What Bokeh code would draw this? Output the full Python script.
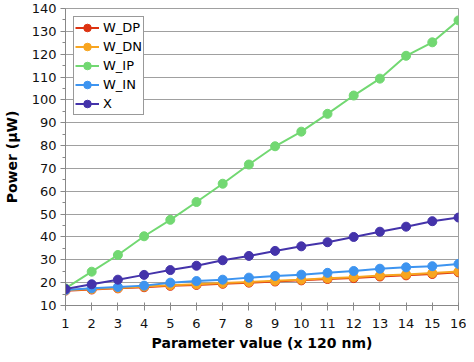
from bokeh.plotting import figure
from bokeh.embed import file_html
from bokeh.resources import INLINE
from bokeh.models import FixedTicker, Range1d

x = list(range(1, 17))
w_dp = [16.5, 17.0, 17.5, 18.0, 18.6, 19.0, 19.5, 20.0, 20.5, 21.0, 21.6, 22.0, 22.7, 23.2, 23.8, 24.5]
w_dn = [16.7, 17.2, 17.7, 18.3, 18.9, 19.3, 19.8, 20.3, 20.8, 21.3, 21.9, 22.4, 23.1, 23.6, 24.2, 24.9]
w_ip = [17.5, 24.8, 32.1, 40.3, 47.5, 55.3, 63.3, 71.7, 79.7, 86.1, 93.9, 101.9, 109.3, 119.3, 125.2, 134.8]
w_in = [16.8, 17.5, 18.1, 18.7, 20.0, 20.7, 21.3, 22.2, 22.9, 23.5, 24.3, 25.1, 26.1, 26.7, 27.2, 28.2]
x_s = [17.2, 19.3, 21.3, 23.4, 25.5, 27.4, 29.8, 31.7, 33.9, 35.9, 37.7, 40.0, 42.3, 44.5, 46.9, 48.5]

series = [
    ("W_DP", w_dp, "#dd3311"),
    ("W_DN", w_dn, "#f8a520"),
    ("W_IP", w_ip, "#72d872"),
    ("W_IN", w_in, "#3d94f0"),
    ("X", x_s, "#4433aa"),
]

y_ticks = list(range(10, 141, 10))

p = figure(width=466, height=354, output_backend="svg", toolbar_location=None,
           x_range=Range1d(1, 16), y_range=Range1d(10, 140),
           min_border_left=62, min_border_right=8, min_border_top=8, min_border_bottom=49)

for name, ys, col in series:
    p.line(x, ys, line_color=col, line_width=2, legend_label=name)
    p.scatter(x, ys, size=9, fill_color=col, line_color=col, legend_label=name)

p.xaxis.ticker = FixedTicker(ticks=x)
p.yaxis.ticker = FixedTicker(ticks=y_ticks, minor_ticks=[v + 5 for v in y_ticks[:-1]])

font = "DejaVu Sans"
for ax in (p.xaxis, p.yaxis):
    ax.major_label_text_font = font
    ax.major_label_text_font_size = "13px"
    ax.major_label_text_color = "#111111"
    ax.axis_label_text_font = font
    ax.axis_label_text_font_size = "14px"
    ax.axis_label_text_font_style = "bold"
    ax.axis_label_text_color = "#000000"
    ax.axis_line_color = "#888888"
    ax.major_tick_line_color = "#888888"
    ax.minor_tick_line_color = "#888888"

p.xaxis.axis_label = "Parameter value (x 120 nm)"
p.yaxis.axis_label = "Power (µW)"
p.xaxis.major_tick_in = 3
p.xaxis.major_tick_out = 5
p.xaxis.minor_tick_line_color = None
p.xaxis.major_label_standoff = 8
p.xaxis.axis_label_standoff = 4
p.yaxis.major_tick_in = 0
p.yaxis.major_tick_out = 5
p.yaxis.minor_tick_in = 0
p.yaxis.minor_tick_out = 3
p.yaxis.major_label_standoff = 4
p.yaxis.axis_label_standoff = 9

p.xgrid.grid_line_color = None
p.ygrid.grid_line_color = "#a0a0a0"
p.ygrid.grid_line_width = 1
p.outline_line_color = "#a0a0a0"

lg = p.legend[0]
lg.location = "top_left"
lg.margin = 8
lg.padding = 1
lg.spacing = 0
lg.label_height = 19
lg.glyph_height = 19
lg.glyph_width = 24
lg.label_standoff = 4
lg.label_text_font = font
lg.label_text_font_size = "13px"
lg.label_text_color = "#000000"
lg.border_line_color = "#333333"
lg.border_line_width = 1
lg.background_fill_alpha = 1

open("out.html", "w").write(file_html(p, INLINE))
